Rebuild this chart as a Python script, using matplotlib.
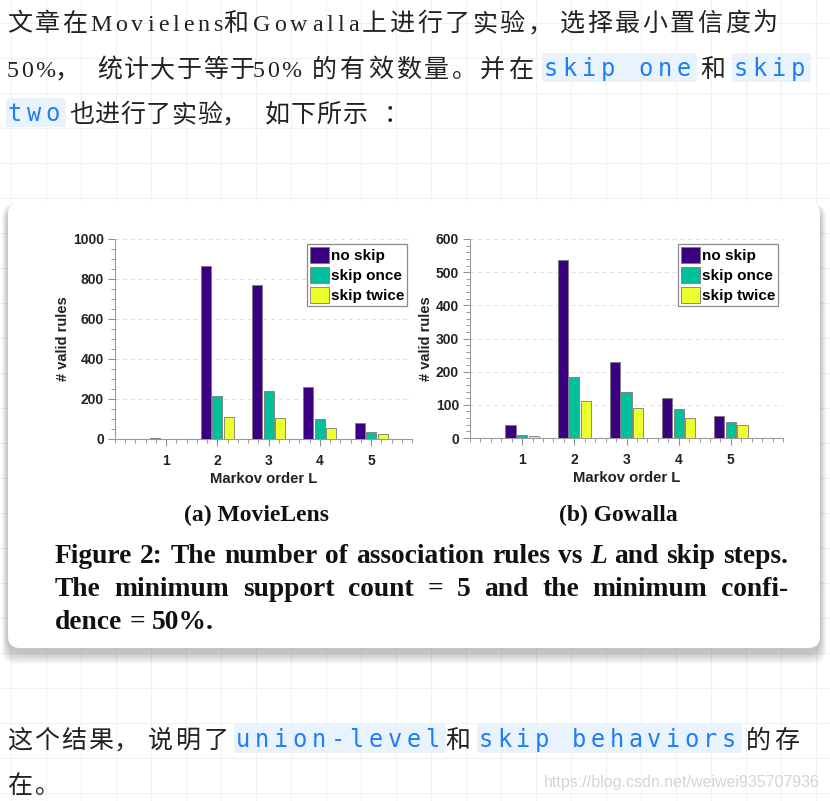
import matplotlib
matplotlib.use('Agg')
import matplotlib.pyplot as plt
import numpy as np
from matplotlib.patches import FancyBboxPatch, Patch

W, H = 830, 801

# data
orders = [1, 2, 3, 4, 5]
series_names = ["no skip", "skip once", "skip twice"]
ml_no_skip = [3, 865, 768, 262, 78]
ml_skip_once = [0, 215, 238, 102, 37]
ml_skip_twice = [0, 108, 107, 53, 23]
gw_no_skip = [38, 537, 229, 120, 65]
gw_skip_once = [8, 185, 140, 86, 48]
gw_skip_twice = [6, 111, 89, 59, 38]
colors = ["#3b0082", "#00c19c", "#eeff2e"]

TXT = "#222222"
CODE_FG = "#1e7ff5"
CODE_BG = "#e8f3fe"

fig = plt.figure(figsize=(W / 100, H / 100), dpi=100)
bg = fig.add_axes([0, 0, 1, 1])
bg.set_xlim(0, W); bg.set_ylim(H, 0); bg.axis("off")
r = fig.canvas.get_renderer()

# faint graph-paper background
for gx in np.arange(11, W, 35):
    bg.axvline(gx, color="#f1f1f1", lw=0.8, zorder=0)
for gy in np.arange(23, H, 35):
    bg.axhline(gy, color="#f1f1f1", lw=0.8, zorder=0)

# card with soft shadow
for k in range(12, 0, -1):
    bg.add_patch(FancyBboxPatch((8 - k * 0.5, 206 - k * 0.2), 812 + k * 1.0, 446 + k * 1.2,
                                boxstyle="round,pad=0,rounding_size=14", fc="black",
                                ec="none", alpha=0.02, zorder=1))
bg.add_patch(FancyBboxPatch((8, 202), 812, 446, boxstyle="round,pad=0,rounding_size=12",
                            fc="white", ec="none", zorder=2))


def run(x, y, s, adv=27.5, size=18, lsize=17.3, sp=4.0):
    for ch in s:
        if ord(ch) > 0x2e80:
            bg.text(x, y, ch, fontsize=size, family="Noto Sans CJK SC", color=TXT,
                    va="baseline", ha="left", zorder=3)
            x += adv
        else:
            t = bg.text(x, y, ch, fontsize=lsize, family="Liberation Serif", color=TXT,
                        va="baseline", ha="left", zorder=3)
            x += t.get_window_extent(r).width + sp
    return x


def code(x, y, s, adv=19.0):
    w = len(s) * adv + 3
    bg.add_patch(FancyBboxPatch((x, y - 24), w, 29, boxstyle="round,pad=0,rounding_size=3",
                                fc=CODE_BG, ec="none", zorder=2.5))
    for i, ch in enumerate(s):
        bg.text(x + 1.5 + i * adv, y - 1, ch, fontsize=17, family="DejaVu Sans Mono",
                color=CODE_FG, va="baseline", ha="left", zorder=3)


# prose above the card
y1, y2, y3 = 31, 77, 122
run(7, y1, "文章在"); run(90, y1, "Movielens"); run(223, y1, "和"); run(253, y1, "Gowalla")
run(362, y1, "上进行了实验"); run(528, y1, "，"); run(560, y1, "选择最小置信度为")
xe = run(7, y2, "50%", sp=2.0); run(xe - 2, y2, "，")
run(97, y2, "统计大于等于", adv=26.5); run(253, y2, "50%", sp=2.0)
run(312, y2, "的有效数量。并在", adv=28); code(542, y2, "skip one"); run(700, y2, "和")
code(732, y2, "skip")
code(6, y3, "two"); run(69, y3, "也进行了实验", adv=25.6); run(222, y3, "，")
run(265, y3, "如下所示", adv=25.6); run(384, y3, "：")

# prose below the card
y4, y5 = 748, 793
run(7, y4, "这个结果", adv=27); run(114, y4, "，"); run(148, y4, "说明了", adv=28)
code(234, y4, "union-level"); run(445, y4, "和"); code(477, y4, "skip behaviors", adv=18.7)
run(746, y4, "的存", adv=28)
run(7, y5, "在。")

# watermark
wm = bg.text(0, 0, "https://blog.csdn.net/weiwei935707936", fontsize=10, family="Liberation Sans")
fs_wm = 10 * 275 / wm.get_window_extent(r).width
wm.remove()
bg.text(820, 783, "https://blog.csdn.net/weiwei935707936", fontsize=fs_wm, family="Liberation Sans",
        color="#d4d4d4", ha="right", va="center", zorder=3)

# sub-captions and figure caption
CAP = "#111111"
bg.text(256, 515, "(a) MovieLens", fontsize=17, family="Liberation Serif", weight="bold",
        color=CAP, ha="center", va="center", zorder=3)
bg.text(618, 515, "(b) Gowalla", fontsize=17, family="Liberation Serif", weight="bold",
        color=CAP, ha="center", va="center", zorder=3)

cap_lines = [
    ("Figure 2: The number of association rules vs L and skip steps.", True),
    ("The minimum support count = 5 and the minimum confi-", True),
    ("dence = 50%.", False),
]
cap_y = [563, 596, 629]
x_l, x_r = 55, 788


def word_w(wd, fs, italic=False):
    t = bg.text(0, 0, wd, fontsize=fs, family="Liberation Serif", weight="bold",
                style="italic" if italic else "normal")
    w = t.get_window_extent(r).width
    t.remove()
    return w


probe = word_w(cap_lines[0][0], 10)
cap_fs = 10 * (x_r - x_l) / probe * 0.99
space_w = word_w("a a", cap_fs) - 2 * word_w("a", cap_fs)
for (line, justify), yy in zip(cap_lines, cap_y):
    words = line.split(" ")
    ws = [word_w(wd, cap_fs, wd == "L") for wd in words]
    gap = (x_r - x_l - sum(ws)) / (len(words) - 1) if justify else space_w
    x = x_l
    for wd, w in zip(words, ws):
        bg.text(x, yy, wd, fontsize=cap_fs, family="Liberation Serif", weight="bold",
                style="italic" if wd == "L" else "normal", color=CAP,
                ha="left", va="baseline", zorder=3)
        x += w + gap


def bar_panel(rect, no_skip, once, twice, ymax, ystep, yminor, xmax):
    ax = fig.add_axes([rect[0] / W, 1 - rect[3] / H, (rect[2] - rect[0]) / W,
                       (rect[3] - rect[1]) / H])
    ax.set_facecolor("none")
    x = np.array(orders, dtype=float)
    offs = [-0.225, 0.0, 0.225]
    for vals, off, c, name in zip([no_skip, once, twice], offs, colors, series_names):
        ax.bar(x + off, vals, width=0.195, color=c, edgecolor="#7a7a7a", lw=0.6,
               label=name, zorder=3)
    ax.set_xlim(0, xmax)
    ax.set_ylim(0, ymax)
    ax.set_yticks(np.arange(0, ymax + 1, ystep))
    ax.set_yticks(np.arange(0, ymax + 1, yminor), minor=True)
    ax.set_xticks(orders)
    ax.set_xticks(np.arange(0, xmax + 0.01, 0.2), minor=True)
    for s in ["top", "right"]:
        ax.spines[s].set_visible(False)
    for s in ["left", "bottom"]:
        ax.spines[s].set_color("#9a9a9a"); ax.spines[s].set_linewidth(0.8)
    ax.tick_params(which="major", direction="out", length=5, width=0.7, color="#8a8a8a",
                   labelsize=10, pad=3, labelcolor="#222")
    ax.tick_params(which="minor", direction="out", length=3, width=0.6, color="#8a8a8a")
    ax.tick_params(axis="x", which="major", pad=5.5)
    for lab in ax.get_xticklabels() + ax.get_yticklabels():
        lab.set_fontweight("bold"); lab.set_family("Liberation Sans")
    ax.yaxis.grid(True, which="major", color="#dddddd", lw=0.7, ls=(0, (4, 4)), zorder=0)
    ax.set_ylabel("# valid rules", fontsize=10.5, weight="bold", family="Liberation Sans",
                  color="#222", labelpad=2)
    ax.set_xlabel("Markov order L", fontsize=10.7, weight="bold", family="Liberation Sans",
                  color="#222", labelpad=3)
    handles = [Patch(fc=c, ec="#7a7a7a", lw=0.6) for c in colors]
    leg = ax.legend(handles, series_names, loc="upper right", fancybox=False,
                    edgecolor="#8a8a8a", framealpha=1, borderpad=0.2, handlelength=1.25,
                    handleheight=1.25, handletextpad=0.12, labelspacing=0.25,
                    borderaxespad=0.3, prop={"family": "Liberation Sans", "weight": "bold",
                                             "size": 11})
    leg.get_frame().set_linewidth(0.9)
    return ax


bar_panel((115, 239, 412, 439), ml_no_skip, ml_skip_once, ml_skip_twice, 1000, 200, 50, 5.8)
bar_panel((470, 239, 783, 438), gw_no_skip, gw_skip_once, gw_skip_twice, 600, 100, 20, 6.0)

fig.savefig("out.png", dpi=100)
